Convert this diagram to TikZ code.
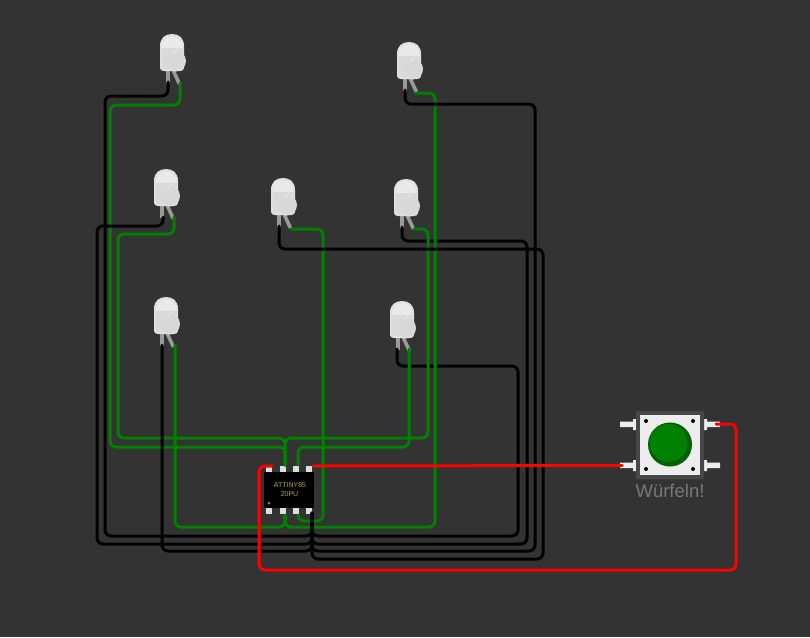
\documentclass[tikz,border=0pt]{standalone}
\usepackage{fontspec}
\setmainfont{Liberation Sans}
\definecolor{bgc}{HTML}{333333}
\definecolor{wgreen}{HTML}{008000}
\definecolor{pincol}{HTML}{9A9A9A}
\definecolor{ledrim}{HTML}{D8D8D8}
\definecolor{ledlow}{HTML}{DADADA}
\definecolor{ledtop}{HTML}{E9E9E9}
\definecolor{ledhi}{HTML}{E0E0E0}
\tikzset{
  wire/.style={line width=3pt,rounded corners=6pt,line cap=round},
  wblack/.style={wire,draw=black},
  wgrn/.style={wire,draw=wgreen},
  wred/.style={wire,draw=red},
  ledpic/.pic={
    \draw[pincol,line width=3.6pt] (8,34) -- (8,49);
    \draw[pincol,line width=3.6pt] (12,34) -- (19.5,50);
    \fill[ledrim] (15.5,27) circle (10.5);
    \fill[ledhi] (0,34) -- (0,12) .. controls (0,4) and (5,0) .. (12,0) .. controls (19,0) and (24,4) .. (24,12) -- (24,34) .. controls (24,36) and (22,37) .. (20,37) -- (4,37) .. controls (2,37) and (0,36) .. (0,34) -- cycle;
    \fill[ledtop] (1.5,14) .. controls (1.5,7) and (6,2) .. (12,2) .. controls (18,2) and (22.5,7) .. (22.5,14) -- cycle;
    \fill[ledlow] (1.5,14) -- (22.5,14) -- (22.5,35) -- (1.5,35) -- cycle;
    \fill[ledrim] (15.5,27) circle (9.5);
    \draw[ledtop,line width=0.8pt] (13,20) -- (18,15);
  },
  chippin/.style={fill=white!87!black,minimum width=6pt,minimum height=6pt,inner sep=0pt,draw=none,rectangle},
  btnpin/.style={fill=white!93!black,draw=none},
  btnhole/.style={fill=black,circle,minimum size=4pt,inner sep=0pt},
  chiptext/.style={text=yellow!65!black,font=\fontsize{7}{7}\selectfont,inner sep=0pt},
}
\begin{document}
\begin{tikzpicture}[x=1pt,y=-1pt]
\fill[bgc] (0,0) rectangle (810,637);
\useasboundingbox (0,0) rectangle (810,637);
% LEDs
\path (160,34) pic {ledpic} (397,42) pic {ledpic} (154,169) pic {ledpic} (271,178) pic {ledpic}
      (394,179) pic {ledpic} (154,297) pic {ledpic} (390,301) pic {ledpic};
% LED connection points: name / cathode x,y / anode x,y
\foreach \n/\kx/\ky/\gx/\gy in {a/168/82/180/83, b/405/90/415/93, c/163/217/174/217, d/279/226/291/229,
    e/402/227/414/229, f/162/345/175/345, g/397/349/409/349}{
  \coordinate (\n k) at (\kx,\ky);
  \coordinate (\n g) at (\gx,\gy);
}
% Chip
\node[fill=black,minimum width=50pt,minimum height=36pt,inner sep=0pt] (chip) at (289,490) {};
\foreach \n/\x in {1/269,2/283,3/296,4/309}{
  \node[chippin] (ct\n) at (\x,469) {};
  \node[chippin] (cb\n) at (\x,511) {};
}
\node[chiptext] (chipa) at (290,485.5) {ATTINY85};
\node[chiptext] (chipb) at (289.5,494.5) {20PU};
\fill[gray] (269,503) circle (1.5);
\coordinate (t1) at (272,466);
\coordinate (t2) at (285,465);
\coordinate (t3) at (298,465);
\coordinate (t4) at (313,466);
\coordinate (b2) at (285,515);
\coordinate (b3) at (298,515);
\coordinate (b4) at (312,513);
% Button
\fill[btnpin] (620,421.5) rectangle (633,427) (633,419) rectangle (637,430);
\fill[btnpin] (620,462.5) rectangle (633,468) (633,460) rectangle (637,471);
\fill[btnpin] (707,421.5) rectangle (720,427) (703,419) rectangle (707,430);
\fill[btnpin] (707,462.5) rectangle (720,468) (703,460) rectangle (707,471);
\node[fill=white!28!black,rounded corners=2pt,minimum size=68pt,inner sep=0pt] (btnout) at (670,445) {};
\node[fill=white!93!black,minimum size=60pt,inner sep=0pt] (btn) at (670,445) {};
\foreach \x/\y in {646/421,693/421,646/469,693/469} \node[btnhole] at (\x,\y) {};
\fill[green!38!black] (670,444.5) circle (22);
\fill[green!50!black] (668.5,443) circle (19);
\node[text=white!47!black,font=\fontsize{18.5}{18.5}\selectfont,inner sep=0pt] (lbl) at (670,491) {Würfeln!};
\coordinate (bl) at (622,465.5);
\coordinate (br) at (716,424);
% Wires beneath the green ones
\draw[wblack] (gk) -- (397,366) -- (518,366) -- (518,536) -- (312,536) -- (b4);
\draw[wblack] (ek) -- (402,241) -- (527,241) -- (527,544) -- (312,544) -- (b4);
% Green wires
\draw[wgrn] (ag) -- (180,105) -- (110,105) -- (110,447) -- (285,447) -- (t2);
\draw[wgrn] (cg) -- (174,234) -- (118,234) -- (118,438) -- (285,438) -- (t2);
\draw[wgrn] (eg) -- (428,229) -- (428,438) -- (285,438) -- (t2);
\draw[wgrn] (gg) -- (409,447) -- (298,447) -- (t3);
\draw[wgrn] (fg) -- (175,527) -- (285,527) -- (b2);
\draw[wgrn] (bg) -- (435,93) -- (435,527) -- (285,527) -- (b2);
\draw[wgrn] (dg) -- (323,229) -- (323,521) -- (298,521) -- (b3);
% Black wires on top
\draw[wblack] (ak) -- (168,96) -- (105,96) -- (105,536) -- (312,536) -- (b4);
\draw[wblack] (ck) -- (163,226) -- (97,226) -- (97,544) -- (312,544) -- (b4);
\draw[wblack] (fk) -- (162,551) -- (312,551) -- (b4);
\draw[wblack] (bk) -- (405,104) -- (535,104) -- (535,551) -- (312,551) -- (b4);
\draw[wblack] (dk) -- (279,249) -- (543,249) -- (543,559) -- (312,559) -- (b4);
% Red wires
\draw[wred] (t4) -- (bl);
\draw[wred] (br) -- (736,424) -- (736,570) -- (259,570) -- (259,466) -- (t1);
\end{tikzpicture}
\end{document}
